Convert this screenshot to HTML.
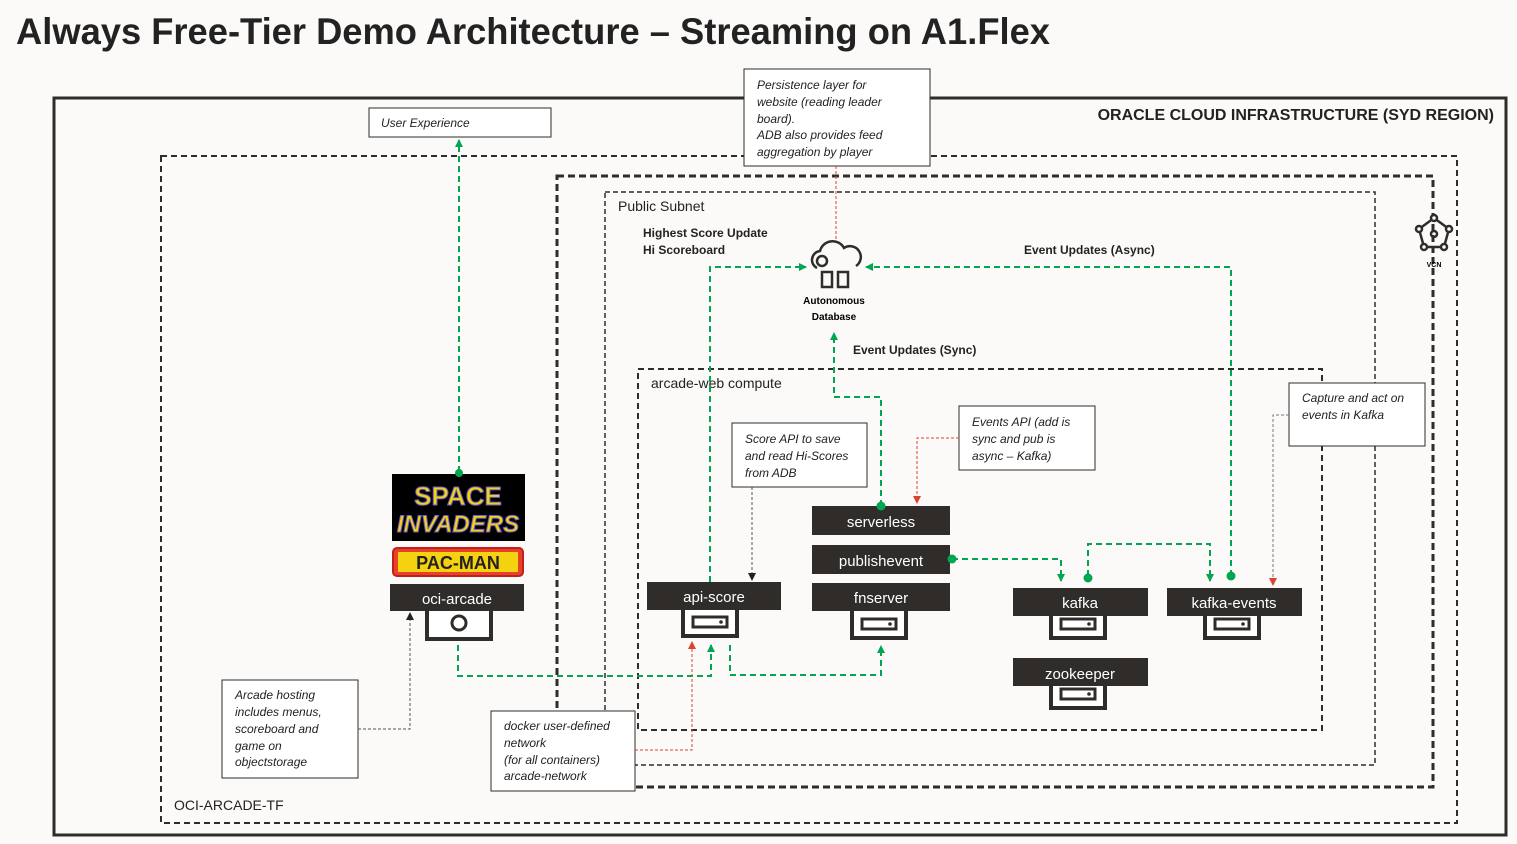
<!DOCTYPE html>
<html><head><meta charset="utf-8"><style>
body{margin:0;background:#fbfaf9;}
svg{display:block;font-family:"Liberation Sans",Arial,sans-serif;}
.n{font-size:12px;font-style:italic;fill:#222;}
.b{font-size:12px;font-weight:bold;fill:#222;}
.w{font-size:15px;fill:#fff;text-anchor:middle;}
</style></head><body>
<svg width="1517" height="844" viewBox="0 0 1517 844">
<defs>
<marker id="g" markerWidth="8" markerHeight="8" refX="7" refY="4" orient="auto" markerUnits="userSpaceOnUse"><path d="M0,0L8,4L0,8z" fill="#00a651"/></marker>
<marker id="r" markerWidth="8" markerHeight="8" refX="7" refY="4" orient="auto" markerUnits="userSpaceOnUse"><path d="M0,0L8,4L0,8z" fill="#d9432f"/></marker>
<marker id="k" markerWidth="8" markerHeight="8" refX="7" refY="4" orient="auto" markerUnits="userSpaceOnUse"><path d="M0,0L8,4L0,8z" fill="#222"/></marker>
<g id="srv"><rect x="2" y="2" width="54" height="31" fill="#fff" stroke="#2f2c2a" stroke-width="4"/><rect x="12" y="14" width="34" height="10" fill="none" stroke="#2f2c2a" stroke-width="3"/><circle cx="40" cy="19" r="1.8" fill="#2f2c2a"/></g>
</defs>
<text x="16" y="44" font-size="37" font-weight="bold" fill="#222" textLength="1034" lengthAdjust="spacingAndGlyphs">Always Free-Tier Demo Architecture – Streaming on A1.Flex</text>
<rect x="54" y="98" width="1452" height="737" fill="none" stroke="#2f2c2a" stroke-width="3"/>
<text x="1494" y="120" font-size="16" font-weight="bold" text-anchor="end" fill="#222">ORACLE CLOUD INFRASTRUCTURE (SYD REGION)</text>
<rect x="161" y="156" width="1296" height="667" fill="none" stroke="#2f2c2a" stroke-width="2" stroke-dasharray="6,4"/>
<text x="174" y="810" font-size="14" fill="#222">OCI-ARCADE-TF</text>
<rect x="557" y="176" width="876" height="611" fill="none" stroke="#2f2c2a" stroke-width="3" stroke-dasharray="7,4"/>
<rect x="605" y="192" width="770" height="573" fill="none" stroke="#2f2c2a" stroke-width="1.5" stroke-dasharray="5,3"/>
<text x="618" y="211" font-size="14" fill="#222">Public Subnet</text>
<rect x="638" y="369" width="684" height="361" fill="none" stroke="#2f2c2a" stroke-width="2" stroke-dasharray="6,4"/>
<text x="651" y="388" font-size="14" fill="#222">arcade-web compute</text>
<g stroke="#2f2c2a" stroke-width="2.5" fill="none"><polygon points="1434,218 1449,229 1444,247 1424,247 1419,229"/><circle cx="1434" cy="218" r="3" fill="#fff"/><circle cx="1449" cy="229" r="3" fill="#fff"/><circle cx="1444" cy="247" r="3" fill="#fff"/><circle cx="1424" cy="247" r="3" fill="#fff"/><circle cx="1419" cy="229" r="3" fill="#fff"/><circle cx="1434" cy="234" r="3"/></g>
<text x="1434" y="267" font-size="7" font-weight="bold" text-anchor="middle">VCN</text>
<g fill="#fff" stroke="#2f2c2a" stroke-width="1">
<rect x="369" y="108" width="182" height="29"/><rect x="744" y="69" width="186" height="97"/><rect x="732" y="423" width="135" height="64"/><rect x="959" y="406" width="136" height="64"/><rect x="1289" y="383" width="136" height="63"/><rect x="222" y="680" width="136" height="98"/><rect x="491" y="711" width="144" height="80"/></g>
<text class="n" x="381" y="127">User Experience</text>
<text class="n"><tspan x="757" y="89">Persistence layer for</tspan><tspan x="757" y="106">website (reading leader</tspan><tspan x="757" y="123">board).</tspan><tspan x="757" y="139">ADB also provides feed</tspan><tspan x="757" y="156">aggregation by player</tspan></text>
<text class="n"><tspan x="745" y="443">Score API to save</tspan><tspan x="745" y="460">and read Hi-Scores</tspan><tspan x="745" y="477">from ADB</tspan></text>
<text class="n"><tspan x="972" y="426">Events API (add is</tspan><tspan x="972" y="443">sync and pub is</tspan><tspan x="972" y="460">async – Kafka)</tspan></text>
<text class="n"><tspan x="1302" y="402">Capture and act on</tspan><tspan x="1302" y="419">events in Kafka</tspan></text>
<text class="n"><tspan x="235" y="699">Arcade hosting</tspan><tspan x="235" y="716">includes menus,</tspan><tspan x="235" y="733">scoreboard and</tspan><tspan x="235" y="750">game on</tspan><tspan x="235" y="766">objectstorage</tspan></text>
<text class="n"><tspan x="504" y="730">docker user-defined</tspan><tspan x="504" y="747">network</tspan><tspan x="504" y="764">(for all containers)</tspan><tspan x="504" y="780">arcade-network</tspan></text>
<text class="b"><tspan x="643" y="237">Highest Score Update</tspan><tspan x="643" y="254">Hi Scoreboard</tspan></text>
<text class="b" x="1024" y="254">Event Updates (Async)</text>
<text class="b" x="853" y="354">Event Updates (Sync)</text>
<g stroke="#2f2c2a" stroke-width="2.5" fill="none"><path d="M817,268 a9,9 0 0 1 3,-17 a13,13 0 0 1 24,-3 a10,10 0 0 1 12,18"/><circle cx="822" cy="261" r="5"/><rect x="822" y="272" width="10" height="15"/><rect x="838" y="272" width="10" height="15"/></g>
<text x="834" y="304" font-size="10" font-weight="bold" text-anchor="middle">Autonomous</text>
<text x="834" y="320" font-size="10" font-weight="bold" text-anchor="middle">Database</text>
<rect x="392" y="474" width="133" height="67" fill="#000"/>
<text x="458" y="505" font-size="26" font-weight="bold" fill="#f5d20f" stroke="#6a5acd" stroke-width="1" text-anchor="middle">SPACE</text>
<text x="458" y="532" font-size="24" font-weight="bold" fill="#f5d20f" stroke="#6a5acd" stroke-width="1" text-anchor="middle" font-style="italic">INVADERS</text>
<rect x="393" y="548" width="130" height="28" rx="4" fill="#e8412a" stroke="#c0201a" stroke-width="2"/>
<rect x="398" y="552" width="120" height="20" fill="#f5d20f"/>
<text x="458" y="569" font-size="18" font-weight="bold" text-anchor="middle" fill="#222">PAC-MAN</text>
<rect x="427" y="605" width="64" height="34" fill="#fff" stroke="#2f2c2a" stroke-width="4"/><circle cx="459" cy="623" r="7" fill="none" stroke="#2f2c2a" stroke-width="3"/>
<use href="#srv" x="681" y="603"/><use href="#srv" x="850" y="605"/><use href="#srv" x="1049" y="605"/><use href="#srv" x="1203" y="605"/><use href="#srv" x="1049" y="675"/>
<g fill="#2f2c2a"><rect x="390" y="584" width="134" height="27"/><rect x="647" y="582" width="134" height="28"/><rect x="812" y="506" width="138" height="29"/><rect x="812" y="545" width="138" height="29"/><rect x="812" y="583" width="138" height="28"/><rect x="1013" y="588" width="135" height="28"/><rect x="1167" y="588" width="135" height="28"/><rect x="1013" y="658" width="135" height="28"/></g>
<text class="w" x="457" y="604">oci-arcade</text><text class="w" x="714" y="602">api-score</text><text class="w" x="881" y="527">serverless</text><text class="w" x="881" y="566">publishevent</text><text class="w" x="881" y="603">fnserver</text><text class="w" x="1080" y="608">kafka</text><text class="w" x="1234" y="608">kafka-events</text><text class="w" x="1080" y="679">zookeeper</text>
<g fill="none" stroke="#00a651" stroke-width="2" stroke-dasharray="6,4" marker-end="url(#g)">
<path d="M459,472V140"/><path d="M710,582V267H806"/><path d="M1231,576V267H866"/><path d="M881,506V397H834V333"/><path d="M952,559H1061V581"/><path d="M1088,576V544H1210V581"/><path d="M458,645V676H711V645"/><path d="M730,645V675H881V646"/></g>
<g fill="#00a651"><circle cx="459" cy="473" r="4"/><circle cx="881" cy="506" r="4.5"/><circle cx="952" cy="559" r="4.5"/><circle cx="1088" cy="578" r="4.5"/><circle cx="1231" cy="576" r="4.5"/></g>
<g fill="none" stroke="#d9432f" stroke-width="1" stroke-dasharray="3,2"><path d="M836,166V240"/><path d="M959,438H917V503" marker-end="url(#r)"/><path d="M635,750H692V642" marker-end="url(#r)"/></g>
<g fill="none" stroke="#555" stroke-width="1" stroke-dasharray="3,2"><path d="M1289,415H1273V585" stroke="#777" marker-end="url(#r)"/><path d="M752,487V580" marker-end="url(#k)"/><path d="M358,729H410V613" marker-end="url(#k)"/></g>
</svg>
</body></html>
